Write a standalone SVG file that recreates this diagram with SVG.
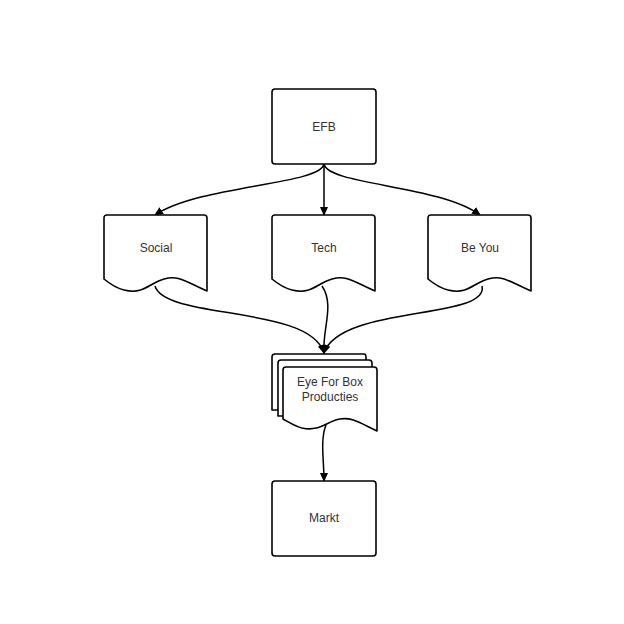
<svg xmlns="http://www.w3.org/2000/svg" width="624" height="624" viewBox="0 0 624 624">
<style>
.s{fill:#fff;stroke:#000;stroke-width:1.6;stroke-linejoin:round}
.c{fill:none;stroke:#000;stroke-width:1.5}
text{font-family:"Liberation Sans",Arial,sans-serif;font-size:12px;text-anchor:middle;fill:#333}
</style>
<defs><marker id="a" markerWidth="10" markerHeight="10" refX="8" refY="5" orient="auto" markerUnits="userSpaceOnUse"><path d="M0,1 L9,5 L0,9 Z" fill="#000"/></marker>
<path id="doc" d="M0,3 Q0,0 3,0 H100 Q103,0 103,3 V76 C80,66 75,60 60,64 C45,68 40,80 20,75 C12,73 6,69 0,64 Z"/></defs>
<rect width="624" height="624" fill="#fff"/>
<g id="connectors" class="c">
<path d="M324,164 C320,185 200,185 155,215" marker-end="url(#a)"/>
<path d="M324,164 V215" marker-end="url(#a)"/>
<path d="M324,164 C328,185 440,185 480,215" marker-end="url(#a)"/>
<path d="M155,286 C165,320 310,305 324,353" marker-end="url(#a)"/>
<path d="M322,286 C335,305 322,330 324,353" marker-end="url(#a)"/>
<path d="M482,286 C490,320 340,305 324,353" marker-end="url(#a)"/>
<path d="M326,425 C320,440 324,460 324,481" marker-end="url(#a)"/>
</g>
<g id="efb"><rect class="s" x="272" y="89" width="104" height="75" rx="3"/><text x="324" y="131">EFB</text></g>
<g id="social"><use href="#doc" class="s" x="104" y="215"/><text x="156" y="252">Social</text></g>
<g id="tech"><use href="#doc" class="s" x="272" y="215"/><text x="324" y="252">Tech</text></g>
<g id="beyou"><use href="#doc" class="s" x="428" y="215"/><text x="480" y="252">Be You</text></g>
<g id="eyeforbox">
<path class="s" d="M272,357 Q272,354 275,354 H364 Q366,354 366,357 V410 L272,410 Z"/>
<path class="s" d="M278,363 Q278,360 281,360 H369 Q372,360 372,363 V416 L278,416 Z"/>
<path class="s" d="M283,370 Q283,367 286,367 H374 Q377,367 377,370 V431 C360,423 352,417 340,419 C327,421 320,432 302,428 C294,426 289,422 283,419 Z"/>
<text x="330" y="386">Eye For Box</text><text x="330" y="401">Producties</text></g>
<g id="markt"><rect class="s" x="272" y="481" width="104" height="75" rx="3"/><text x="324" y="522">Markt</text></g>
</svg>
